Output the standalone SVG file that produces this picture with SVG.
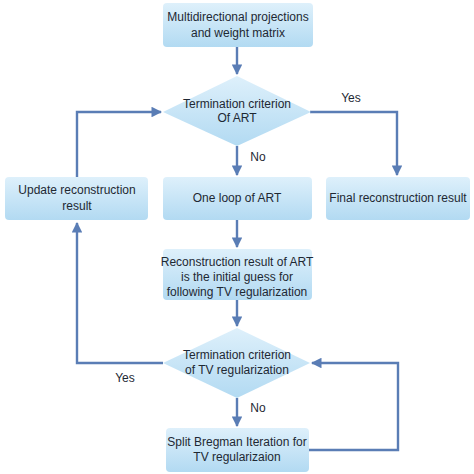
<svg xmlns="http://www.w3.org/2000/svg" width="474" height="474" viewBox="0 0 474 474">
<defs>
<linearGradient id="g" x1="0" y1="0" x2="0" y2="1">
<stop offset="0" stop-color="#def0fb"/>
<stop offset="1" stop-color="#b2daf2"/>
</linearGradient>
<marker id="a" viewBox="0 0 10 10" refX="9" refY="5" markerWidth="4.4" markerHeight="4.4" orient="auto" markerUnits="strokeWidth">
<path d="M0,0 L10,5 L0,10 z" fill="#5a7db5"/>
</marker>
</defs>
<style>
.n{fill:url(#g);}
.t{font-family:"Liberation Sans",Arial,sans-serif;font-size:12px;fill:#1e2833;text-anchor:middle;}
.c{fill:none;stroke:#5a7db5;stroke-width:2.4;marker-end:url(#a);}
</style>
<rect width="474" height="474" fill="#ffffff"/>
<g id="connectors">
<path class="c" d="M237,47 V74"/>
<path class="c" d="M237,146 V175"/>
<path class="c" d="M310,112 H397 V175"/>
<path class="c" d="M77,177 V112 H161"/>
<path class="c" d="M237,220 V247"/>
<path class="c" d="M237,300 V326"/>
<path class="c" d="M163,363 H77 V223"/>
<path class="c" d="M237,398 V426"/>
<path class="c" d="M309,450 H398 V363 H312"/>
<text class="t" x="351" y="102">Yes</text>
<text class="t" x="258" y="161">No</text>
<text class="t" x="125" y="382">Yes</text>
<text class="t" x="258" y="412">No</text>
</g>
<g id="n1">
<rect class="n" x="163" y="3" width="150" height="44" rx="4"/>
<text class="t" x="238" y="21">Multidirectional projections</text>
<text class="t" x="238" y="37">and weight matrix</text>
</g>
<g id="d1">
<polygon class="n" points="237,76 311,112 237,146 163,112"/>
<text class="t" x="237" y="108">Termination criterion</text>
<text class="t" x="237" y="122">Of ART</text>
</g>
<g id="n2">
<rect class="n" x="163" y="177" width="149" height="43" rx="4"/>
<text class="t" x="237" y="202">One loop of ART</text>
</g>
<g id="n3">
<rect class="n" x="326" y="177" width="144" height="43" rx="4"/>
<text class="t" x="398" y="202">Final reconstruction result</text>
</g>
<g id="n4">
<rect class="n" x="5" y="177" width="143" height="43" rx="4"/>
<text class="t" x="77" y="194">Update reconstruction</text>
<text class="t" x="77" y="210">result</text>
</g>
<g id="n5">
<rect class="n" x="163" y="249" width="149" height="51" rx="4"/>
<text class="t" x="237" y="266">Reconstruction result of ART</text>
<text class="t" x="237" y="281">is the initial guess for</text>
<text class="t" x="237" y="296">following TV regularization</text>
</g>
<g id="d2">
<polygon class="n" points="237,328 310,363 237,398 163,363"/>
<text class="t" x="237" y="359">Termination criterion</text>
<text class="t" x="237" y="374">of TV regularization</text>
</g>
<g id="n6">
<rect class="n" x="166" y="428" width="143" height="44" rx="4"/>
<text class="t" x="237" y="446">Split Bregman Iteration for</text>
<text class="t" x="237" y="461">TV regularizaion</text>
</g>
</svg>
